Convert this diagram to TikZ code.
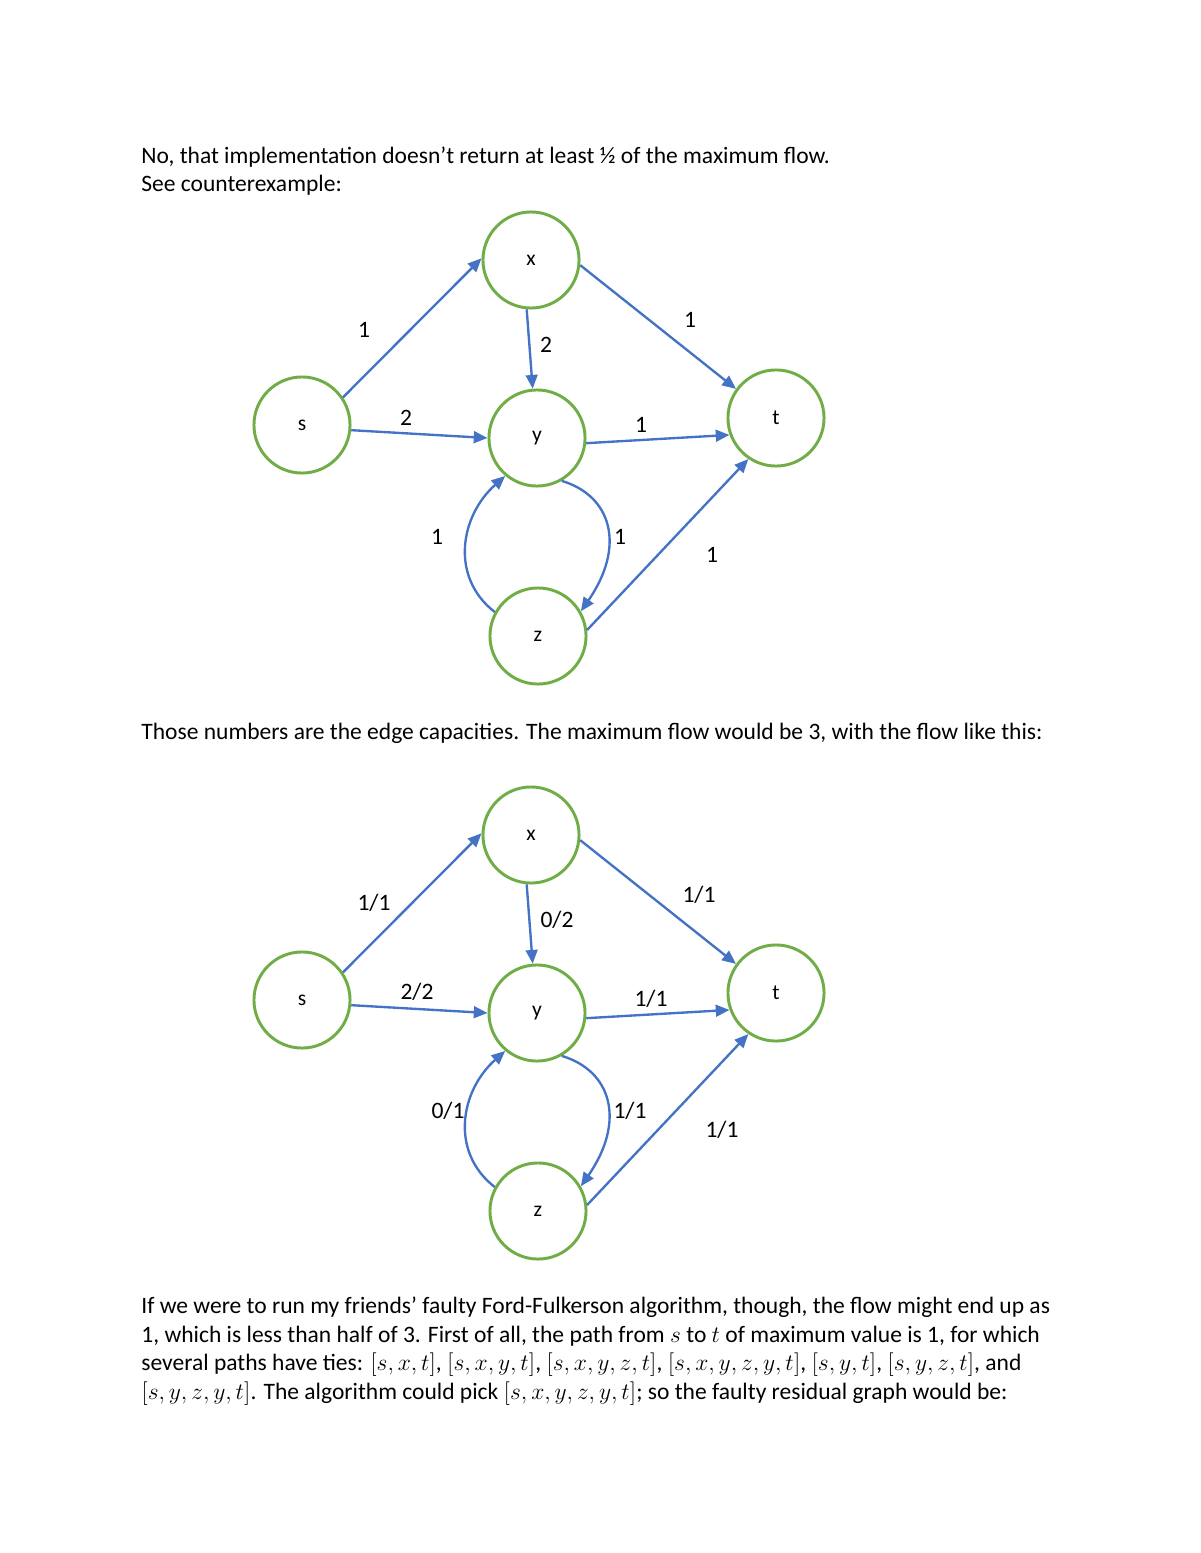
\documentclass[tikz,border=0pt]{standalone}
\usepackage{fontspec}
\setmainfont{Carlito}
\usetikzlibrary{arrows.meta}
\definecolor{vgreen}{RGB}{112,173,71}
\definecolor{eblue}{RGB}{68,114,196}
\begin{document}
\begin{tikzpicture}[x=0.51pt,y=-0.51pt,
 vert/.style={circle,draw=vgreen,line width=1.5pt,minimum size=49pt,inner sep=0pt,font=\fontsize{11}{13}\selectfont},
 edge/.style={draw=eblue,line width=1.2pt,-{Triangle[length=7pt,width=6pt]}},
 lab/.style={font=\fontsize{12}{14}\selectfont,inner sep=0pt},
 txt/.style={anchor=base west,inner sep=0pt,font=\fontsize{12}{14.6}\selectfont}]
\useasboundingbox (0,0) rectangle (1200,1553);

% text
\node[txt] (l1) at (141,164) {No, that implementation doesn't return at least ½ of the maximum flow.};
\node[txt] (l2) at (141,192) {See counterexample:};
\node[txt] (l3) at (141,739) {Those numbers are the edge capacities. The maximum flow would be 3, with the flow like this:};
\node[txt] (p1) at (141,1313) {If we were to run my friends' faulty Ford-Fulkerson algorithm, though, the flow might end up as};
\node[txt] (p2) at (141,1342) {1, which is less than half of 3. First of all, the path from $s$ to $t$ of maximum value is 1, for which};
\node[txt] (p3) at (141,1370) {several paths have ties: $[s,x,t]$, $[s,x,y,t]$, $[s,x,y,z,t]$, $[s,x,y,z,y,t]$, $[s,y,t]$, $[s,y,z,t]$, and};
\node[txt] (p4) at (141,1399) {$[s,y,z,y,t]$. The algorithm could pick $[s,x,y,z,y,t]$; so the faulty residual graph would be:};

% graph 1
\node[vert] (s1) at (302,425) {s};
\node[vert] (x1) at (531,260) {x};
\node[vert] (y1) at (537,438) {y};
\node[vert] (t1) at (776,418) {t};
\node[vert] (z1) at (538,636) {z};
\draw[edge] (s1.34) -- (x1.178);
\draw[edge] (s1.-6) -- (y1.180);
\draw[edge] (x1.-95) -- (y1.95);
\draw[edge] (x1.-6) -- (t1.144);
\draw[edge] (y1.-6) -- (t1.200);
\draw[edge] (z1.7) -- (t1.236);
\draw[edge] (y1.-60) .. controls +(50,15) and +(45,-65) .. (z1.30);
\draw[edge] (z1.151) .. controls +(-45,-35) and +(-45,40) .. (y1.230);
\node[lab] (a1) at (364,330) {1};
\node[lab] (b1) at (406,418) {2};
\node[lab] (c1) at (546,345) {2};
\node[lab] (d1) at (690,320) {1};
\node[lab] (e1) at (641,425) {1};
\node[lab] (f1) at (437,537) {1};
\node[lab] (g1) at (620,537) {1};
\node[lab] (h1) at (712,555) {1};

% graph 2
\node[vert] (s2) at (302,1000) {s};
\node[vert] (x2) at (531,835) {x};
\node[vert] (y2) at (537,1013) {y};
\node[vert] (t2) at (776,993) {t};
\node[vert] (z2) at (538,1211) {z};
\draw[edge] (s2.34) -- (x2.178);
\draw[edge] (s2.-6) -- (y2.180);
\draw[edge] (x2.-95) -- (y2.95);
\draw[edge] (x2.-6) -- (t2.144);
\draw[edge] (y2.-6) -- (t2.200);
\draw[edge] (z2.7) -- (t2.236);
\draw[edge] (y2.-60) .. controls +(50,15) and +(45,-65) .. (z2.30);
\draw[edge] (z2.151) .. controls +(-45,-35) and +(-45,40) .. (y2.230);
\node[lab] (a2) at (374,903) {1/1};
\node[lab] (b2) at (417,992) {2/2};
\node[lab] (c2) at (557,920) {0/2};
\node[lab] (d2) at (699,895) {1/1};
\node[lab] (e2) at (651,999) {1/1};
\node[lab] (f2) at (448,1111) {0/1};
\node[lab] (g2) at (630,1111) {1/1};
\node[lab] (h2) at (722,1130) {1/1};
\end{tikzpicture}
\end{document}
